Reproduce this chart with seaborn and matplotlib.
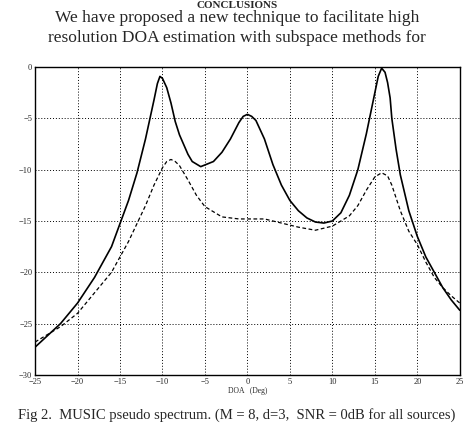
import numpy as np
import pandas as pd
import seaborn as sns
import matplotlib
matplotlib.use("Agg")
import matplotlib.pyplot as plt

# solid curve (proposed method)
solid_x = [-25, -22, -20, -18, -16, -14, -13, -12, -11, -10.6, -10.3, -10, -9.5, -9, -8.5, -8, -7, -6.5, -5.5, -4, -3, -2, -1, -0.5, 0, 0.5, 1, 2, 3, 4, 5, 6, 7, 8, 9, 10, 11, 12, 13, 14, 14.5, 15, 15.4, 15.8, 16.2, 16.5, 16.8, 17, 17.5, 18, 19, 20, 21, 22, 23, 24, 25]
solid_y = [-27.3, -25, -23, -20.5, -17.5, -13, -10.3, -7, -3.2, -1.6, -0.9, -1.1, -2, -3.5, -5.3, -6.6, -8.5, -9.2, -9.7, -9.2, -8.3, -7, -5.4, -4.8, -4.6, -4.8, -5.2, -7, -9.5, -11.5, -13, -14, -14.7, -15.1, -15.2, -15, -14.2, -12.5, -10, -6.5, -4.5, -2.5, -0.9, -0.1, -0.5, -1.5, -3, -5, -8, -10.5, -14, -16.5, -18.5, -20, -21.5, -22.7, -23.7]

# dashed curve
dash_x = [-25, -22, -20, -18, -16, -14, -12, -11, -10, -9.5, -9, -8.5, -8, -7, -6, -5, -3, -1, 0, 2, 4, 6, 8, 10, 12, 13, 14, 15, 15.8, 16.5, 17, 18, 19, 20, 21, 22, 23, 24, 25]
dash_y = [-26.8, -25.3, -24, -22, -20, -17, -13.5, -11.5, -9.8, -9.2, -9, -9.2, -9.6, -11, -12.5, -13.6, -14.6, -14.8, -14.8, -14.8, -15.2, -15.6, -15.9, -15.5, -14.5, -13.5, -12, -10.7, -10.3, -10.6, -11.5, -14, -16, -17.3, -19, -20.5, -21.5, -22.3, -23]

sns.set_style("white")
plt.rcParams['font.family'] = ['Liberation Serif', 'DejaVu Serif']

fig = plt.figure(figsize=(4.74, 4.25), dpi=100)
ax = fig.add_axes([0.074, 0.118, 0.896, 0.724])

sns.lineplot(x=solid_x, y=solid_y, ax=ax, color="black", lw=1.2)
sns.lineplot(x=dash_x, y=dash_y, ax=ax, color="black", lw=0.9, linestyle=(0, (3, 2)))

ax.set_xlim(-25, 25)
ax.set_ylim(-30, 0)
ax.set_xticks(range(-25, 26, 5))
ax.set_yticks(range(-30, 1, 5))
ax.grid(True, color="black", linestyle=(0, (1, 2)), lw=0.7)
ax.tick_params(labelsize=6, length=0, pad=2)
for s in ax.spines.values():
    s.set_color("black")
    s.set_linewidth(1)
ax.set_xlabel("DOA   (Deg)", fontsize=5.5, labelpad=1)

fig.text(0.5, 0.998, "CONCLUSIONS", ha="center", va="top", fontsize=8, weight="bold")
fig.text(0.5, 0.948, "We have proposed a new technique to facilitate high", ha="center", fontsize=12.5)
fig.text(0.5, 0.902, "resolution DOA estimation with subspace methods for", ha="center", fontsize=12.5)
fig.text(0.5, 0.015, "Fig 2.  MUSIC pseudo spectrum. (M = 8, d=3,  SNR = 0dB for all sources)", ha="center", fontsize=10.5)

fig.savefig("out.png", dpi=100)
